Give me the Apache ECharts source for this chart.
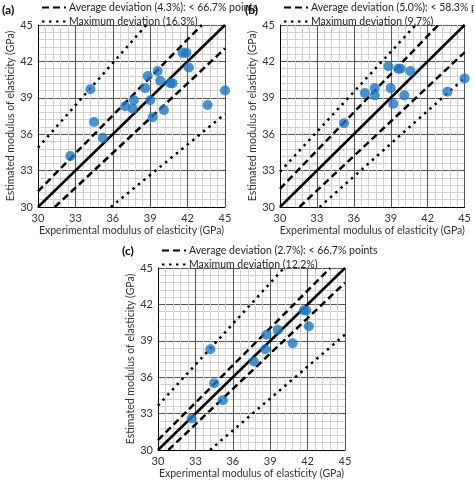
<!DOCTYPE html>
<html><head><meta charset="utf-8">
<script src="https://cdn.jsdelivr.net/npm/echarts@6/dist/echarts.min.js"></script>
<style>html,body{margin:0;background:#fff}#c{width:474px;height:481px}</style>
</head><body><div id="c"></div>
<script>
// data: [experimental, estimated]
const pointsA = [[32.6,34.2],[34.2,39.7],[34.5,37.0],[35.2,35.7],[37.0,38.3],[37.6,38.1],[37.7,38.8],[38.6,39.8],[38.8,40.8],[39.0,38.8],[39.2,37.4],[39.6,41.2],[39.8,40.4],[40.1,38.0],[40.6,40.2],[40.8,40.2],[41.6,42.7],[41.9,42.7],[42.1,41.5],[43.6,38.4],[45.0,39.6]]
const pointsB = [[35.2,36.9],[36.9,39.4],[37.7,39.2],[37.7,39.8],[38.8,41.6],[39.0,39.8],[39.2,38.5],[39.6,41.4],[39.8,41.4],[40.1,39.2],[40.6,41.2],[43.6,39.5],[45.0,40.6]]
const pointsC = [[32.7,32.6],[34.2,38.3],[34.5,35.5],[35.2,34.1],[37.7,37.3],[38.6,38.3],[38.7,39.5],[39.6,39.9],[40.8,38.8],[41.7,41.5],[41.9,41.5],[42.1,40.2]]
const panelLabels = ['(a)', '(b)', '(c)']
const avgDev = [4.3, 5.0, 2.7]
const avgPts = [66.7, 58.3, 66.7]
const maxDev = [16.3, 9.7, 12.2]
const tickMin = 30, tickMax = 45, tickStep = 3

const panels = [
  { pts: pointsA, l: 38, t: 25, tx: 2, ty: 4 },
  { pts: pointsB, l: 280, t: 25, tx: 245, ty: 4 },
  { pts: pointsC, l: 158, t: 268, tx: 122, ty: 245 },
]
const W = 187, H = 182
const font = 'Lato'

// ratio line y = k*x clipped to the box
const ratioLine = (k) => {
  const x0 = Math.max(tickMin, tickMin / k), x1 = Math.min(tickMax, tickMax / k)
  return [[x0, x0 * k], [x1, x1 * k]]
}

const option = { animation: false, grid: [], xAxis: [], yAxis: [], series: [], legend: [], title: [] }
panels.forEach((p, i) => {
  option.grid.push({ left: p.l, top: p.t, width: W, height: H })
  const ax = {
    min: tickMin, max: tickMax, interval: tickStep, gridIndex: i,
    axisLine: { show: true, lineStyle: { color: '#000', width: 1 } },
    axisTick: { show: false },
    axisLabel: { color: '#333', fontSize: 11, fontFamily: font },
    splitLine: { show: true, lineStyle: { color: '#555', width: 1 } },
    minorTick: { show: false, splitNumber: 5 },
    minorSplitLine: { show: true, lineStyle: { color: '#d0d0d0', width: 1 } },
    nameLocation: 'middle',
    nameTextStyle: { color: '#333', fontSize: 10.5, fontFamily: font },
  }
  option.xAxis.push({ ...ax, type: 'value', name: 'Experimental modulus of elasticity (GPa)', nameGap: 15, axisLabel: { ...ax.axisLabel, margin: 6 } })
  option.yAxis.push({ ...ax, type: 'value', name: 'Estimated modulus of elasticity (GPa)', nameGap: 22, axisLabel: { ...ax.axisLabel, margin: 5 } })
  const avgName = `Average deviation (${avgDev[i].toFixed(1)}%): < ${avgPts[i]}% points`
  const maxName = `Maximum deviation (${maxDev[i]}%)`
  const ln = (data, type, name) => ({
    type: 'line', name, xAxisIndex: i, yAxisIndex: i, data, symbol: 'none', silent: true,
    lineStyle: { color: '#000', width: 2.5, type },
  })
  const a = avgDev[i] / 100, m = maxDev[i] / 100
  option.series.push(ln(ratioLine(1), 'solid', 'eq' + i))
  option.series.push(ln(ratioLine(1 + a), [7, 4], avgName))
  option.series.push(ln(ratioLine(1 - a), [7, 4], avgName))
  option.series.push(ln(ratioLine(1 + m), [2.5, 4.5], maxName))
  option.series.push(ln(ratioLine(1 - m), [2.5, 4.5], maxName))
  option.series.push({
    type: 'scatter', xAxisIndex: i, yAxisIndex: i, data: p.pts, symbolSize: 10,
    itemStyle: { color: '#1f77c4' }, z: 5,
  })
  option.legend.push({
    data: [avgName, maxName], orient: 'vertical', left: p.l + 3, top: p.t - 23,
    itemWidth: 24, itemHeight: 8, itemGap: 3, padding: 0, selectedMode: false,
    itemStyle: { opacity: 0 },
    textStyle: { fontSize: 10.5, fontFamily: font, color: '#222', padding: [0, 0, 0, -2] },
  })
  option.title.push({
    text: panelLabels[i], left: p.tx, top: p.ty, padding: 0,
    textStyle: { fontSize: 12, fontWeight: 'bold', fontFamily: font, color: '#000' },
  })
})
echarts.init(document.getElementById('c')).setOption(option)
</script></body></html>
